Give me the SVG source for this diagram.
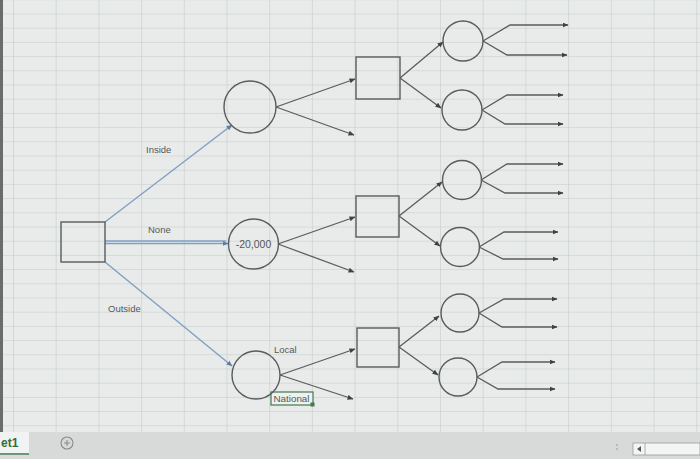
<svg xmlns="http://www.w3.org/2000/svg" width="700" height="459" viewBox="0 0 700 459">
<style>
.node{fill:none;stroke:#5a5c5c;stroke-width:1.4}
.edge{fill:none;stroke:#5a5c5c;stroke-width:1.3}
.blue{fill:none;stroke:#7f9fc4;stroke-width:1.4}
.lbl{font-family:"Liberation Sans",Arial,sans-serif;font-size:9.5px;fill:#555858}
</style>
<defs>
<pattern id="grid" x="13" y="13.5" width="42.7" height="14.2" patternUnits="userSpaceOnUse">
<path d="M0,0 V14.2 M0,0 H42.7" fill="none" stroke="#c2c6c4" stroke-width="1"/>
</pattern>
<marker id="ah" viewBox="0 0 6 6" refX="5.5" refY="3" markerWidth="6" markerHeight="6" markerUnits="userSpaceOnUse" orient="auto">
<path d="M0,0.5 L6,3 L0,5.5 Z" fill="#3f4242"/>
</marker>
<marker id="ahb" viewBox="0 0 6 6" refX="5.5" refY="3" markerWidth="6" markerHeight="6" markerUnits="userSpaceOnUse" orient="auto">
<path d="M0,0.5 L6,3 L0,5.5 Z" fill="#5c7fa8"/>
</marker>
</defs>
<rect x="0" y="0" width="700" height="459" fill="#e8ebea"/>
<rect x="0" y="0" width="700" height="432" fill="url(#grid)"/>
<rect x="0" y="0" width="3" height="432" fill="#6a6c6c"/>

<g id="connectors">
<path class="blue" d="M105,222 L232,125" marker-end="url(#ahb)"/>
<path class="blue" d="M105,241 L226,241"/>
<path class="blue" d="M105,243.5 L228,243.5" marker-end="url(#ahb)"/>
<path class="blue" d="M105,262 L232,366" marker-end="url(#ahb)"/>
<path class="edge" d="M276,107 L355,79" marker-end="url(#ah)"/>
<path class="edge" d="M276,107 L354,135" marker-end="url(#ah)"/>
<path class="edge" d="M278,244 L355,217" marker-end="url(#ah)"/>
<path class="edge" d="M278,244 L354,272" marker-end="url(#ah)"/>
<path class="edge" d="M280,375 L355,349" marker-end="url(#ah)"/>
<path class="edge" d="M280,375 L353,399" marker-end="url(#ah)"/>
<path class="edge" d="M400,78 L443,42" marker-end="url(#ah)"/>
<path class="edge" d="M400,78 L441,108" marker-end="url(#ah)"/>
<path class="edge" d="M399,216 L442,182" marker-end="url(#ah)"/>
<path class="edge" d="M399,216 L440,246" marker-end="url(#ah)"/>
<path class="edge" d="M399,347 L439,316" marker-end="url(#ah)"/>
<path class="edge" d="M399,347 L438,375" marker-end="url(#ah)"/>
<path class="edge" d="M483,41 L510,25 L568,25" marker-end="url(#ah)"/>
<path class="edge" d="M483,41 L507,55 L567,55" marker-end="url(#ah)"/>
<path class="edge" d="M482,110 L507,95 L563,95" marker-end="url(#ah)"/>
<path class="edge" d="M482,110 L505,124 L563,124" marker-end="url(#ah)"/>
<path class="edge" d="M481,180 L507,164 L563,164" marker-end="url(#ah)"/>
<path class="edge" d="M481,180 L505,193 L563,193" marker-end="url(#ah)"/>
<path class="edge" d="M479,247 L504,232 L558,232" marker-end="url(#ah)"/>
<path class="edge" d="M479,247 L503,259 L558,259" marker-end="url(#ah)"/>
<path class="edge" d="M479,313 L504,299 L557,299" marker-end="url(#ah)"/>
<path class="edge" d="M479,313 L502,327 L557,327" marker-end="url(#ah)"/>
<path class="edge" d="M477,377 L502,362 L555,362" marker-end="url(#ah)"/>
<path class="edge" d="M477,377 L498,389 L555,389" marker-end="url(#ah)"/>
</g>

<g id="edge-labels">
<text class="lbl" x="146" y="153">Inside</text>
<text class="lbl" x="148" y="233">None</text>
<text class="lbl" x="108" y="312">Outside</text>
<text class="lbl" x="274" y="353">Local</text>
<g id="national">
<rect x="271" y="392" width="42" height="13" fill="#eef1ef" stroke="#3f7a4c" stroke-width="1.2"/>
<rect x="310.5" y="402.5" width="4" height="4" fill="#3f7a4c"/>
<text class="lbl" x="273.5" y="402" textLength="36" lengthAdjust="spacingAndGlyphs">National</text>
</g>
</g>

<g id="root"><rect class="node" x="61" y="222" width="44" height="40"/></g>
<g id="chance-inside"><circle class="node" cx="250" cy="107" r="26"/></g>
<g id="chance-none"><circle class="node" cx="253.5" cy="244" r="25"/>
<text class="lbl" x="253.5" y="248" text-anchor="middle" style="font-size:10.5px">-20,000</text></g>
<g id="chance-outside"><circle class="node" cx="256" cy="375" r="24"/></g>
<g id="decision-a"><rect class="node" x="356" y="57" width="44" height="42"/></g>
<g id="decision-b"><rect class="node" x="356" y="196" width="43" height="41"/></g>
<g id="decision-c"><rect class="node" x="357" y="328" width="42" height="39"/></g>
<g id="chance-a1"><circle class="node" cx="463" cy="41" r="20"/></g>
<g id="chance-a2"><circle class="node" cx="462" cy="110" r="20"/></g>
<g id="chance-b1"><circle class="node" cx="462" cy="180" r="19.5"/></g>
<g id="chance-b2"><circle class="node" cx="460" cy="247" r="19.5"/></g>
<g id="chance-c1"><circle class="node" cx="460" cy="313" r="19"/></g>
<g id="chance-c2"><circle class="node" cx="458" cy="377" r="19"/></g>

<g id="sheet-bar">
<rect x="0" y="432" width="700" height="27" fill="#d8dad9"/>
<rect x="0" y="432" width="29" height="23" fill="#f1f3f2"/>
<line x1="0" y1="454" x2="29" y2="454" stroke="#3f7a4c" stroke-width="1.5"/>
<text x="1" y="447" font-family="'Liberation Sans',sans-serif" font-size="12" font-weight="bold" fill="#2f6e41">et1</text>
<circle cx="67" cy="443" r="6" fill="none" stroke="#8a8c8c" stroke-width="1.1"/>
<path d="M64,443 H70 M67,440 V446" stroke="#8a8c8c" stroke-width="1.1"/>
<rect x="633" y="443" width="67" height="12" fill="#f3f4f4" stroke="#9a9c9c" stroke-width="0.8"/>
<line x1="645" y1="443" x2="645" y2="455" stroke="#9a9c9c" stroke-width="0.8"/>
<path d="M641,446 L637,449 L641,452 Z" fill="#555"/>
<path d="M617,444 V446 M617,448 V450" stroke="#9a9c9c" stroke-width="1"/>
</g>
</svg>
